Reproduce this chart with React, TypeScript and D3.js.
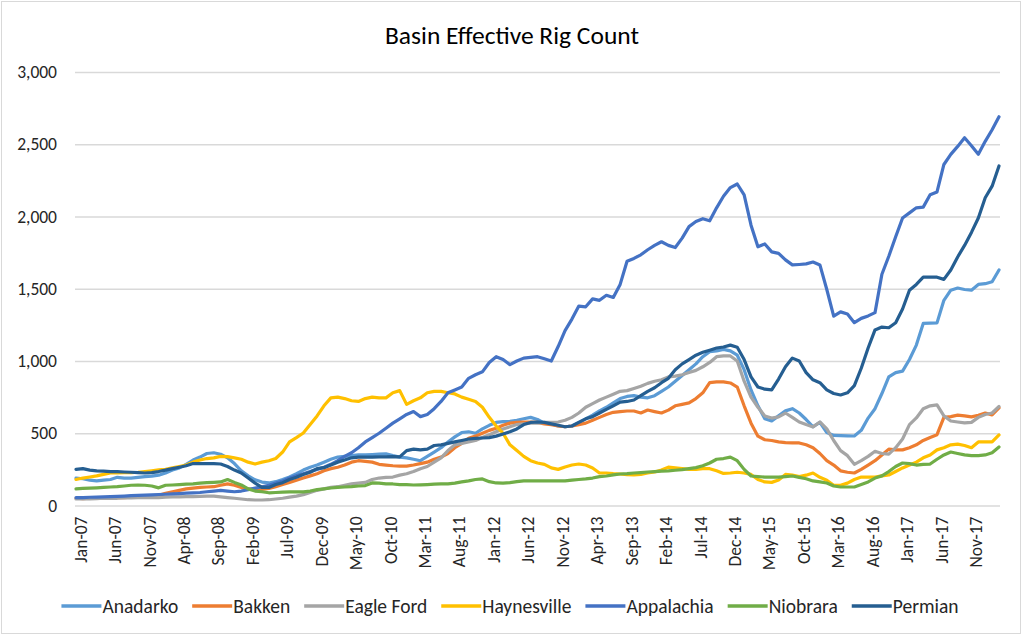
import React, { useEffect, useRef } from "react";
import * as d3 from "d3";

// monthly categories Jan-07 .. Mar-18
const months = d3
  .timeMonth.range(new Date(2007, 0, 1), new Date(2018, 3, 1))
  .map((d) => d3.timeFormat("%b-%y")(d));

const tickLabels = [
  "Jan-07", "Jun-07", "Nov-07", "Apr-08", "Sep-08", "Feb-09", "Jul-09",
  "Dec-09", "May-10", "Oct-10", "Mar-11", "Aug-11", "Jan-12", "Jun-12",
  "Nov-12", "Apr-13", "Sep-13", "Feb-14", "Jul-14", "Dec-14", "May-15",
  "Oct-15", "Mar-16", "Aug-16", "Jan-17", "Jun-17", "Nov-17",
];

const yTicks = [0, 500, 1000, 1500, 2000, 2500, 3000];

const anadarko = [
  190, 185, 175, 170, 175, 180, 195, 190, 190, 195, 200, 203,
  210, 225, 245, 260, 285, 315, 335, 360, 365, 355, 330, 290,
  240, 205, 178, 162, 156, 165, 180, 197, 220, 245, 265, 280,
  300, 320, 335, 340, 345, 350, 350, 352, 355, 357, 345, 335,
  330, 320, 310, 340, 370, 400, 440, 475, 505, 510, 500, 530,
  555, 575, 580, 582, 590, 600, 610, 595, 570, 565, 550, 545,
  550, 575, 600, 625, 655, 680, 710, 740, 755, 760, 750, 745,
  760, 790, 820, 860, 900, 940, 980, 1030, 1065, 1070, 1080, 1070,
  1040, 940, 800, 690, 600, 585, 620, 655, 670, 640, 595, 545,
  575, 505, 485, 483, 482, 481, 520, 605, 670, 775, 890, 920,
  930, 1010, 1110, 1260, 1262, 1264, 1420, 1490, 1505, 1495, 1490, 1530,
  1535, 1548, 1630,
];

const bakken = [
  50, 48, 50, 52, 52, 53, 55, 55, 57, 58, 58, 60,
  70, 85, 95, 105, 115, 120, 125, 128, 130, 140, 150, 140,
  125, 115, 110, 112, 118, 130, 145, 160, 175, 190, 205, 220,
  240, 255, 265, 280, 300, 310, 305, 300, 285, 280, 275, 272,
  273, 280, 290, 300, 320, 335, 360, 400, 430, 465, 480, 500,
  520, 535, 555, 570, 575, 578, 578, 575, 565, 560, 550, 545,
  550, 560, 570, 590, 610, 630, 645, 650, 654, 654, 640, 661,
  650, 640, 660, 690, 700, 710, 740, 780, 850, 855, 855, 848,
  820, 690, 570, 480, 455, 450, 440, 435, 433, 433, 420, 400,
  360, 310, 280, 240, 230, 225, 250, 280, 310, 350, 390, 385,
  385, 400, 420, 450, 470, 490, 610, 615, 625, 620, 613, 625,
  640, 627, 675,
];

const eagleFord = [
  45, 45, 45, 48, 50, 50, 50, 52, 52, 55, 55, 55,
  55, 58, 60, 60, 62, 62, 63, 65, 65, 60, 55, 50,
  45, 40, 38, 38, 40, 45, 50, 58, 65, 75, 90, 105,
  115, 125, 130, 140, 150, 155, 160, 180, 190, 195, 197, 210,
  220, 235, 255, 270, 300, 330, 380, 420, 430, 440, 450, 470,
  490, 510, 530, 545, 560, 565, 570, 570, 575, 575, 578, 590,
  610, 640, 680, 705, 730, 750, 770, 790, 795, 810, 825, 845,
  860, 870, 890, 895, 905, 920, 935, 960, 990, 1030, 1035, 1035,
  1000, 860, 750, 680, 620, 605, 613, 640, 610, 578, 560, 544,
  578, 530, 450, 380, 345, 285, 310, 340, 375, 360, 355, 400,
  460, 560, 606, 670, 690, 696, 620, 585, 578, 572, 575, 610,
  630, 640, 685,
];

const haynesville = [
  180, 190, 197, 205, 215, 225, 225, 228, 228, 230, 235, 240,
  246, 250, 260, 270, 280, 300, 315, 325, 330, 340, 338, 330,
  320, 300, 287, 300, 310, 325, 370, 440, 470, 502, 560, 620,
  690, 745, 750, 740, 725, 720, 740, 750, 745, 745, 780, 795,
  700, 725, 745, 780, 790, 790, 780, 772, 750, 735, 720, 680,
  610, 550, 500, 420, 380, 340, 310, 294, 285, 260, 250, 267,
  280, 287, 280, 260, 225, 225, 220, 218, 213, 211, 215, 225,
  232, 245, 265, 260, 255, 250, 250, 255, 255, 240, 222, 225,
  230, 225, 215, 180, 163, 160, 177, 215, 210, 200, 210, 225,
  195, 175, 140, 140, 155, 180, 197, 197, 197, 205, 211, 235,
  260, 280, 300, 330, 350, 385, 400, 420, 425, 415, 400, 440,
  440, 440, 488,
];

const appalachia = [
  55, 55, 57, 58, 60, 62, 63, 65, 68, 70, 72, 74,
  76, 78, 80, 82, 85, 88, 90, 95, 100, 105, 100, 95,
  100, 110, 120, 130, 140, 155, 170, 190, 205, 220, 235, 250,
  265, 285, 310, 340, 365, 400, 440, 470, 500, 535, 570, 600,
  630, 650, 615, 630, 670, 720, 780, 800, 820, 880, 905, 925,
  990, 1030, 1010, 975, 1000, 1020, 1025, 1030, 1015, 1000, 1100, 1210,
  1290, 1380, 1375, 1430, 1420, 1455, 1440, 1530, 1690, 1710, 1735, 1770,
  1800, 1825, 1800, 1785, 1850, 1930, 1965, 1985, 1970, 2060, 2140, 2200,
  2225, 2150, 1940, 1790, 1810, 1755, 1745, 1700, 1665, 1668, 1672, 1685,
  1665, 1495, 1310, 1340, 1325, 1265, 1295, 1312, 1335, 1600, 1725, 1860,
  1990, 2025, 2060, 2065, 2150, 2170, 2360, 2430, 2485, 2545, 2490, 2430,
  2520, 2600, 2690,
];

const niobrara = [
  115, 118, 120, 122, 125, 128, 130, 135, 140, 142, 140, 135,
  122, 140, 142, 145, 148, 150, 155, 158, 160, 163, 180, 160,
  142, 115, 100, 95, 88, 90, 92, 94, 95, 94, 100, 110,
  115, 121, 125, 128, 130, 135, 138, 156, 155, 150, 149, 145,
  145, 142, 143, 145, 148, 149, 150, 155, 163, 170, 180, 184,
  165, 156, 155, 158, 165, 170, 170, 170, 170, 170, 170, 170,
  175, 180, 184, 190, 200, 204, 212, 218, 220, 225, 228, 232,
  235, 238, 240, 244, 248, 255, 262, 275, 294, 320, 325, 335,
  310, 250, 204, 200, 197, 197, 197, 200, 204, 195, 185, 170,
  163, 156, 135, 128, 128, 128, 145, 163, 190, 205, 235, 270,
  294, 290, 280, 285, 287, 320, 350, 370, 360, 350, 345, 345,
  350, 365, 405,
];

const permian = [
  250, 255, 245, 240, 238, 235, 235, 232, 230, 228, 225, 228,
  235, 245, 255, 265, 275, 290, 290, 290, 290, 287, 270, 245,
  225, 190, 155, 125, 125, 145, 158, 180, 195, 215, 230, 255,
  262, 280, 300, 315, 330, 335, 335, 335, 336, 336, 338, 336,
  380, 390, 385, 390, 415, 420, 430, 440, 450, 460, 465, 467,
  470, 480, 495, 510, 530, 560, 575, 578, 575, 565, 555, 545,
  550, 575, 600, 615, 640, 665, 690, 715, 720, 730, 760, 790,
  815, 850, 880, 940, 980, 1010, 1040, 1060, 1075, 1090, 1097, 1110,
  1095, 1010, 890, 820, 805, 800, 875, 960, 1020, 1000, 920, 870,
  850, 800, 775, 765, 780, 830, 950, 1090, 1215, 1235, 1230, 1265,
  1360, 1490, 1530, 1580, 1580, 1580, 1565, 1630, 1720, 1800, 1890, 1990,
  2130, 2210, 2350,
];

const seriesNames = ["Anadarko", "Bakken", "Eagle Ford", "Haynesville", "Appalachia", "Niobrara", "Permian"];
const seriesColors = ["#5B9BD5", "#ED7D31", "#A5A5A5", "#FFC000", "#4472C4", "#70AD47", "#255E91"];
const seriesValues = [anadarko, bakken, eagleFord, haynesville, appalachia, niobrara, permian];

const FONT = "Calibri, Carlito, Lato, 'Open Sans', sans-serif";
const W = 1024;
const H = 636;

export default function App() {
  const svgRef = useRef<SVGSVGElement>(null);

  useEffect(() => {
    if (!svgRef.current) return;
    const svg = d3.select(svgRef.current);
    svg.selectAll("*").remove();

    const margin = { top: 72, right: 24, bottom: 130, left: 76 };
    const plotRight = W - margin.right;
    const plotBottom = 505.5;

    const x = d3.scalePoint<string>().domain(months).range([margin.left, plotRight - 1]);
    const y = d3.scaleLinear().domain([0, 3000]).range([plotBottom, margin.top]);

    // chart border
    svg.append("rect")
      .attr("x", 1.5).attr("y", 1.5)
      .attr("width", 1019).attr("height", 632)
      .attr("fill", "#fff").attr("stroke", "#D9D9D9");

    // title
    svg.append("text")
      .attr("x", 512).attr("y", 44)
      .attr("text-anchor", "middle")
      .style("font-family", FONT).style("font-size", "25.5px")
      .attr("fill", "#000")
      .text("Basin Effective Rig Count");

    // horizontal gridlines + y labels
    const yAxis = svg.append("g")
      .attr("transform", `translate(${margin.left - 1},0)`)
      .call(
        d3.axisLeft(y)
          .tickValues(yTicks)
          .tickSize(-(plotRight - margin.left + 1))
          .tickPadding(18)
          .tickFormat((d) => d3.format(",")(d as number))
      );
    yAxis.select(".domain").remove();
    yAxis.selectAll("line").attr("stroke", "#D9D9D9").attr("stroke-width", 1.3);
    yAxis.selectAll("text")
      .style("font-family", FONT).style("font-size", "17.5px").attr("fill", "#262626");

    // x axis labels
    const xAxis = svg.append("g")
      .attr("transform", `translate(0,${plotBottom})`)
      .call(d3.axisBottom(x).tickValues(tickLabels).tickSize(0).tickPadding(0));
    xAxis.select(".domain").remove();
    xAxis.selectAll("text")
      .attr("transform", "rotate(-90)")
      .attr("x", -11).attr("y", 4)
      .attr("dy", "0.35em")
      .attr("text-anchor", "end")
      .style("font-family", FONT).style("font-size", "17.5px").attr("fill", "#262626");

    // lines
    const line = d3.line<number>()
      .x((_, i) => x(months[i]) as number)
      .y((d) => y(d));

    seriesValues.forEach((vals, k) => {
      svg.append("path")
        .datum(vals)
        .attr("d", line)
        .attr("fill", "none")
        .attr("stroke", seriesColors[k])
        .attr("stroke-width", 3.2)
        .attr("stroke-linejoin", "round")
        .attr("stroke-linecap", "round");
    });

    // legend
    const legend = svg.append("g");
    const swatch = 40;
    const gap = 14;
    const items = seriesNames.map((name, k) => {
      const g = legend.append("g");
      g.append("line")
        .attr("x1", 0).attr("x2", swatch)
        .attr("y1", 0).attr("y2", 0)
        .attr("stroke", seriesColors[k]).attr("stroke-width", 3.5);
      const t = g.append("text")
        .attr("x", swatch + 1).attr("y", 0).attr("dy", "0.35em")
        .style("font-family", FONT).style("font-size", "19.5px").attr("fill", "#262626")
        .text(name);
      const w = (t.node() as SVGTextElement).getComputedTextLength();
      return { g, w: swatch + 1 + w };
    });
    const total = d3.sum(items, (d) => d.w) + gap * (items.length - 1);
    let cx = 510 - total / 2;
    items.forEach((it) => {
      it.g.attr("transform", `translate(${cx},606)`);
      cx += it.w + gap;
    });
  }, []);

  return (
    <svg
      ref={svgRef}
      width={W}
      height={H}
      style={{ position: "absolute", left: 0, top: 0, background: "#fff" }}
    />
  );
}
